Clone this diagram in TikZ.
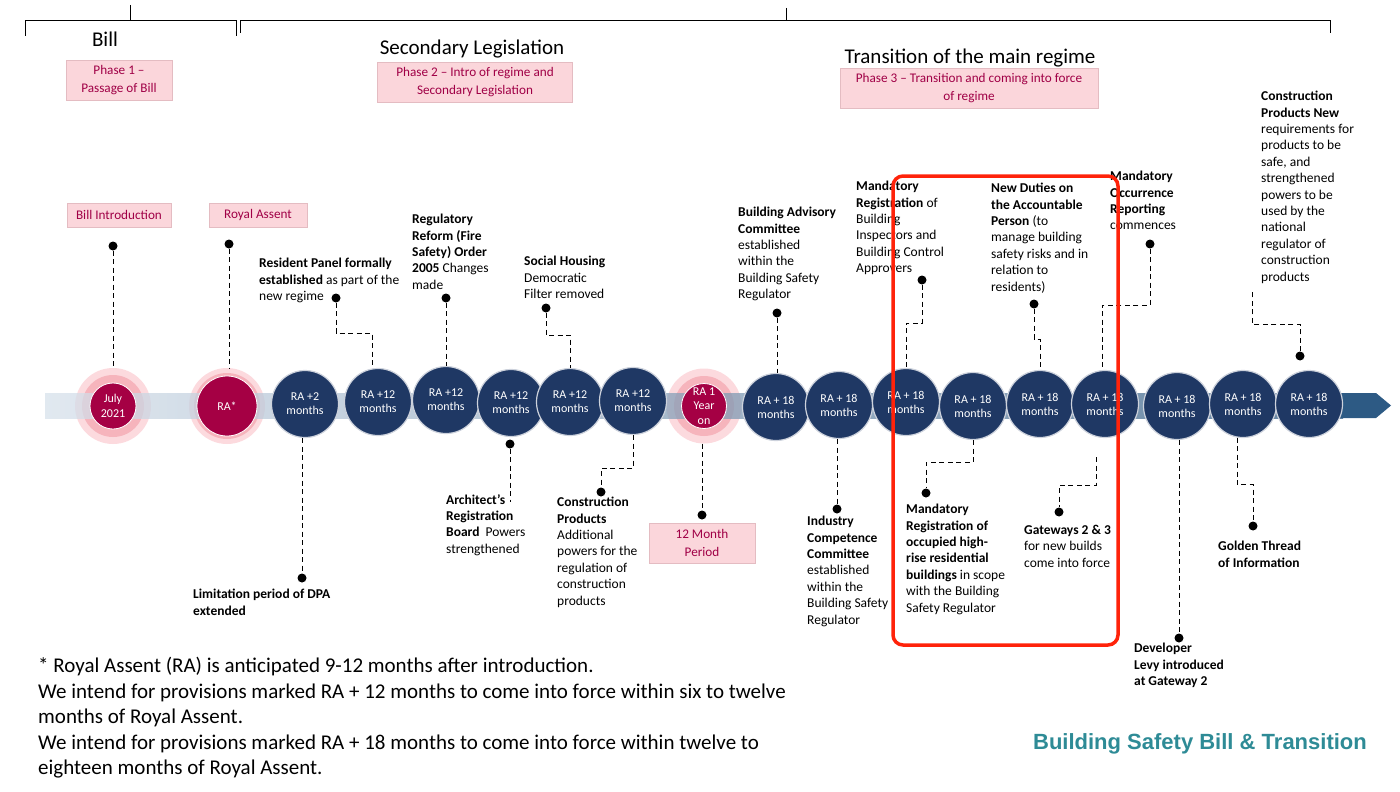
\documentclass[tikz,border=0pt]{standalone}
\usepackage{fontspec}
\setmainfont{Carlito}
\newfontfamily\titlefont{Liberation Sans}
\usepackage{tikz}
\usetikzlibrary{calc}
\usetikzlibrary{positioning}

\definecolor{navyFill}{RGB}{31,56,100}
\definecolor{ringGrey}{RGB}{205,210,220}
\definecolor{crimson}{RGB}{165,0,68}
\definecolor{haloLight}{RGB}{252,218,222}
\definecolor{haloMid}{RGB}{246,180,188}
\definecolor{pinkFill}{RGB}{251,214,219}
\definecolor{pinkBorder}{RGB}{228,188,194}
\definecolor{pinkText}{RGB}{160,0,70}
\definecolor{bandLight}{RGB}{215,225,235}
\definecolor{bandMid}{RGB}{150,152,160}
\definecolor{bandDark}{RGB}{50,92,132}
\definecolor{arrowBlue}{RGB}{45,90,132}
\definecolor{titleTeal}{RGB}{46,139,150}
\definecolor{frameRed}{RGB}{255,35,10}

\begin{document}
\begin{tikzpicture}[x=1pt, y=-1pt]
            % Set primary nodes
            \tikzset{
                milestone/.style={
                        circle,
                        draw=ringGrey,
                        line width=1.2pt,
                        fill=navyFill,
                        text=white,
                        minimum size=67pt,
                        inner sep=0pt,
                        align=center,
                        font=\fontsize{12}{14}\selectfont
                    }
            }
            \tikzset{
                assentNode/.style={
                        circle,
                        draw=white,
                        line width=0.8pt,
                        fill=crimson,
                        text=white,
                        inner sep=0pt,
                        align=center,
                        font=\fontsize{12}{14.5}\selectfont
                    }
            }
            \tikzset{
                halo/.style={
                        circle,
                        inner sep=0pt
                    }
            }
            \tikzset{
                keyBox/.style={
                        draw=pinkBorder,
                        fill=pinkFill,
                        text=pinkText,
                        align=center,
                        inner sep=0pt,
                        font=\fontsize{13.2}{17.5}\selectfont
                    }
            }
            \tikzset{
                eventText/.style={
                        anchor=north west,
                        align=left,
                        inner sep=0pt,
                        font=\fontsize{13.5}{16.4}\selectfont
                    }
            }
            \tikzset{
                heading/.style={
                        inner sep=0pt,
                        font=\fontsize{21}{24}\selectfont
                    }
            }
            \tikzset{
                pin/.style={
                        circle,
                        fill=black,
                        inner sep=0pt,
                        minimum size=9pt
                    }
            }
            % Configure connectors
            \tikzstyle{leader} = [line width=1pt, dash pattern=on 5pt off 3.5pt]
            \tikzstyle{bracket} = [line width=1pt]
            \tikzstyle{redFrame} = [draw=frameRed, line width=3.5pt, rounded corners=10pt]

            \useasboundingbox (0,0) rectangle (1400,792);

            % Brackets and headings
            \draw[bracket] (25,36) -- (25,21) -- (236,21) -- (236,36);
            \draw[bracket] (130,5) -- (130,21);
            \draw[bracket] (240,33) -- (240,21) -- (1330,21) -- (1330,33);
            \draw[bracket] (786,8) -- (786,21);
            \node[heading] (billHead) at (105,39) {Bill};
            \node[heading] (secondaryHead) at (472,49) {Secondary Legislation};
            \node[heading] (transitionHead) at (970,58) {Transition of the main regime};
            \node[keyBox, minimum width=106pt, minimum height=40pt] (phaseOne) at (119,80) {Phase 1 --\\Passage of Bill};
            \node[keyBox, minimum width=195pt, minimum height=40pt] (phaseTwo) at (475,82) {Phase 2 -- Intro of regime and\\Secondary Legislation};
            \node[keyBox, minimum width=258pt, minimum height=40pt] (phaseThree) at (969,88) {Phase 3 -- Transition and coming into force\\of regime};
            \node[keyBox, minimum width=104pt, minimum height=24pt] (billIntro) at (119,215) {Bill Introduction};
            \node[keyBox, minimum width=98pt, minimum height=24pt] (royalAssent) at (258,215) {Royal Assent};

            % Halos
            \node[halo, fill=haloLight, minimum size=76pt] (julyHalo) at (113,406) {};
            \node[halo, fill=haloMid, minimum size=62pt] (julyRing) at (julyHalo) {};
            \node[halo, fill=haloLight, minimum size=76pt] (raHalo) at (227,406) {};
            \node[halo, fill=haloMid, minimum size=66pt] (raRing) at (raHalo) {};
            \node[halo, fill=haloLight, minimum size=75pt] (yearHalo) at (704,406) {};
            \node[halo, fill=haloMid, minimum size=60pt] (yearRing) at (yearHalo) {};

            % Timeline band and arrow
            \shade[left color=bandLight, middle color=bandMid, right color=bandDark, opacity=0.75] (45,393) rectangle (1343,418);
            \fill[arrowBlue] (1340,393) -- (1376,393) -- (1391,405.5) -- (1376,418) -- (1340,418) -- cycle;

            % Placing milestones
            \node[assentNode, minimum size=46pt] (julyNode) at (julyHalo) {July\\2021};
            \node[assentNode, minimum size=60pt] (raNode) at (raHalo) {RA*};
            \node[milestone] (raTwo) at (305,404) {RA +2\\months};
            \node[milestone] (raTwelveA) at (378,402) {RA +12\\months};
            \node[milestone] (raTwelveB) at (446,400) {RA +12\\months};
            \node[milestone] (raTwelveC) at (511,403) {RA +12\\months};
            \node[milestone] (raTwelveD) at (570,402) {RA +12\\months};
            \node[milestone] (raTwelveE) at (633,401) {RA +12\\months};
            \node[assentNode, minimum size=45pt] (yearNode) at (yearHalo) {RA 1\\Year\\on};
            \node[milestone] (raEighteenA) at (776,407) {RA + 18\\months};
            \node[milestone] (raEighteenB) at (839,405) {RA + 18\\months};
            \node[milestone] (raEighteenC) at (906,402) {RA + 18\\months};
            \node[milestone] (raEighteenD) at (973,406) {RA + 18\\months};
            \node[milestone] (raEighteenE) at (1040,404) {RA + 18\\months};
            \node[milestone] (raEighteenF) at (1105,404) {RA + 18\\months};
            \node[milestone] (raEighteenG) at (1177,406) {RA + 18\\months};
            \node[milestone] (raEighteenH) at (1243,404) {RA + 18\\months};
            \node[milestone] (raEighteenI) at (1309,404) {RA + 18\\months};

            % Pins
            \node[pin] (billDot) at (113,246) {};
            \node[pin] (assentDot) at (229,244) {};
            \node[pin] (residentDot) at (336,298) {};
            \node[pin] (reformDot) at (446,298) {};
            \node[pin] (housingDot) at (546,308) {};
            \node[pin] (advisoryDot) at (777,313) {};
            \node[pin] (inspectorsDot) at (922,280) {};
            \node[pin] (dutiesDot) at (1034,304) {};
            \node[pin] (occurrenceDot) at (1150,244) {};
            \node[pin] (productsNewDot) at (1300,356) {};
            \node[pin] (dpaDot) at (302,578) {};
            \node[pin] (architectDot) at (510,444) {};
            \node[pin] (productsDot) at (601,492) {};
            \node[pin] (periodDot) at (702,515) {};
            \node[pin] (industryDot) at (837,509) {};
            \node[pin] (occupiedDot) at (926,493) {};
            \node[pin] (gatewaysDot) at (1059,512) {};
            \node[pin] (developerDot) at (1179,638) {};
            \node[pin] (goldenDot) at (1253,526) {};
            \coordinate (productsNewEnd) at (1252,292);
            \coordinate (architectEnd) at (510,502);
            \coordinate (gatewaysStart) at (1096,457);
            \node[keyBox, minimum width=106pt, minimum height=40pt, below = 3pt of periodDot] (monthPeriod) {12 Month\\Period};

            % Draw leaders
            \draw[leader] (billDot) -- (billDot |- julyHalo.north);
            \draw[leader] (assentDot) -- (assentDot |- raHalo.north);
            \draw[leader] (residentDot) -- ++(0,35) -| (raTwelveA.100);
            \draw[leader] (reformDot) -- (reformDot |- raTwelveB.north);
            \draw[leader] (housingDot) -- ++(0,27) -| (raTwelveD.north);
            \draw[leader] (advisoryDot) -- (advisoryDot |- raEighteenA.north);
            \draw[leader] (inspectorsDot) -- ++(0,43) -| (raEighteenC.north);
            \draw[leader] (dutiesDot) -- ++(0,35) -| (raEighteenE.north);
            \draw[leader] (occurrenceDot) -- ++(0,61) -| (raEighteenF.95);
            \draw[leader] (productsNewDot) -- ++(0,-32) -| (productsNewEnd);
            \draw[leader] (dpaDot |- raTwo.south) -- (dpaDot);
            \draw[leader] (architectDot) -- (architectEnd);
            \draw[leader] (raTwelveE.south) -- ++(0,33) -| (productsDot);
            \draw[leader] (periodDot |- yearHalo.south) -- (periodDot);
            \draw[leader] (industryDot |- raEighteenB.south) -- (industryDot);
            \draw[leader] (raEighteenD.south) -- ++(0,22) -| (occupiedDot);
            \draw[leader] (gatewaysStart) -- ++(0,28) -| (gatewaysDot);
            \draw[leader] (developerDot |- raEighteenG.south) -- (developerDot);
            \draw[leader] (raEighteenH.260) -- ++(0,47) -| (goldenDot);

            % Event texts above
            \node[eventText] (residentText) at (259,258) {\textbf{Resident Panel formally}\\\textbf{established} as part of the\\new regime};
            \node[eventText] (reformText) at (412,214) {\textbf{Regulatory}\\\textbf{Reform (Fire}\\\textbf{Safety) Order}\\\textbf{2005} Changes\\made};
            \node[eventText] (housingText) at (524,256) {\textbf{Social Housing}\\Democratic\\Filter removed};
            \node[eventText] (advisoryText) at (738,207) {\textbf{Building Advisory}\\\textbf{Committee}\\established\\within the\\Building Safety\\Regulator};
            \node[eventText] (inspectorsText) at (856,181) {\textbf{Mandatory}\\\textbf{Registration} of\\Building\\Inspectors and\\Building Control\\Approvers};
            \node[eventText] (dutiesText) at (991,183) {\textbf{New Duties on}\\\textbf{the Accountable}\\\textbf{Person} (to\\manage building\\safety risks and in\\relation to\\residents)};
            \node[eventText] (occurrenceText) at (1110,171) {\textbf{Mandatory}\\\textbf{Occurrence}\\\textbf{Reporting}\\commences};
            \node[eventText] (productsNewText) at (1261,91) {\textbf{Construction}\\\textbf{Products New}\\requirements for\\products to be\\safe, and\\strengthened\\powers to be\\used by the\\national\\regulator of\\construction\\products};

            % Event texts below
            \node[eventText] (dpaText) at (193,589) {\textbf{Limitation period of DPA}\\\textbf{extended}};
            \node[eventText] (architectText) at (446,494) {\textbf{Architect's}\\\textbf{Registration}\\\textbf{Board}\ \ Powers\\strengthened};
            \node[eventText] (productsText) at (557,497) {\textbf{Construction}\\\textbf{Products}\\Additional\\powers for the\\regulation of\\construction\\products};
            \node[eventText] (industryText) at (807,516) {\textbf{Industry}\\\textbf{Competence}\\\textbf{Committee}\\established\\within the\\Building Safety\\Regulator};
            \node[eventText] (occupiedText) at (906,504) {\textbf{Mandatory}\\\textbf{Registration of}\\\textbf{occupied high-}\\\textbf{rise residential}\\\textbf{buildings} in scope\\with the Building\\Safety Regulator};
            \node[eventText] (gatewaysText) at (1024,525) {\textbf{Gateways 2 \& 3}\\for new builds\\come into force};
            \node[eventText] (developerText) at (1134,643) {\textbf{Developer}\\\textbf{Levy introduced}\\\textbf{at Gateway 2}};
            \node[eventText] (goldenText) at (1218,541) {\textbf{Golden Thread}\\\textbf{of Information}};

            % Footnotes and title
            \node[anchor=north west, align=left, inner sep=0pt, font=\fontsize{21}{25.5}\selectfont] (footNotes) at (38,657) {* Royal Assent (RA) is anticipated 9-12 months after introduction.\\We intend for provisions marked RA + 12 months to come into force within six to twelve\\months of Royal Assent.\\We intend for provisions marked RA + 18 months to come into force within twelve to\\eighteen months of Royal Assent.};
            \node[anchor=base east, inner sep=0pt, text=titleTeal, font=\titlefont\bfseries\fontsize{22}{26}\selectfont] (pageTitle) at (1367,749) {Building Safety Bill \& Transition};

            % Highlight frame
            \draw[redFrame] (893,176) rectangle (1118,645);

        \end{tikzpicture}
\end{document}
